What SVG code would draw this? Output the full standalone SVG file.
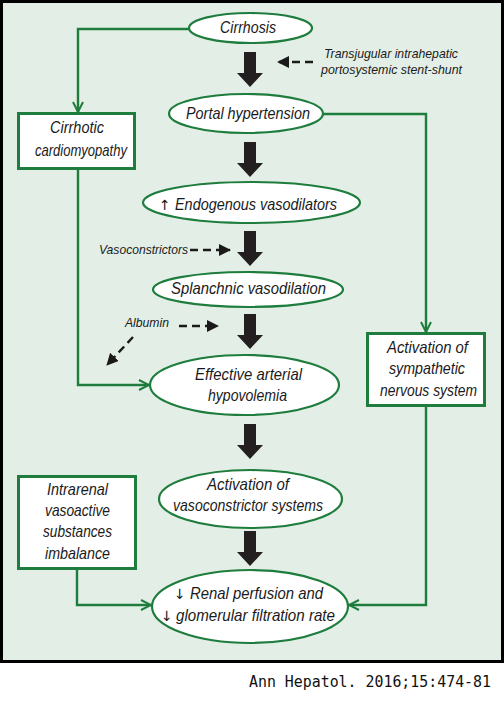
<svg xmlns="http://www.w3.org/2000/svg" width="504" height="704" viewBox="0 0 504 704">
<defs>
<style>
.node{fill:#fff;stroke:#1e7d3d;stroke-width:2.2}
.box{fill:#fff;stroke:#1e7d3d;stroke-width:3}
.t{font-family:"Liberation Sans",Arial,sans-serif;font-style:italic;font-size:16.5px;fill:#1a1a1a}
.s{font-family:"Liberation Sans",Arial,sans-serif;font-style:italic;font-size:13.5px;fill:#1a1a1a}
.ar{font-family:"DejaVu Sans",sans-serif;font-style:normal;font-weight:normal;font-size:14px;fill:#1a1a1a}
.g{fill:none;stroke:#1e7d3d;stroke-width:2.4}
.d{fill:none;stroke:#1a1a1a;stroke-width:2.4;stroke-dasharray:8 5}
.big{fill:#231f20}
</style>
<marker id="ga" viewBox="0 0 12 12" refX="11" refY="6" markerWidth="12" markerHeight="12" markerUnits="userSpaceOnUse" orient="auto">
<path d="M1,1 L11,6 L1,11" fill="none" stroke="#1e7d3d" stroke-width="2"/>
</marker>
<marker id="da" viewBox="0 0 12 12" refX="11" refY="6" markerWidth="12" markerHeight="12" markerUnits="userSpaceOnUse" orient="auto">
<path d="M0,0 L12,6 L0,12 Z" fill="#1a1a1a"/>
</marker>
<path id="ba" d="M-6,0 H6 V21 H13 L0,35 L-13,21 H-6 Z"/>
</defs>
<rect x="0" y="0" width="504" height="704" fill="#fff"/>
<rect x="1.5" y="1.5" width="501" height="660" fill="#e3efe6" stroke="#000" stroke-width="3"/>

<g id="connectors">
<path class="g" d="M189,29 H78 V112" marker-end="url(#ga)"/>
<path class="g" d="M323,114 H426 V332" marker-end="url(#ga)"/>
<path class="g" d="M78,168 V385 H149" marker-end="url(#ga)"/>
<path class="g" d="M426,406 V605 H349" marker-end="url(#ga)"/>
<path class="g" d="M77,569 V605 H151" marker-end="url(#ga)"/>
<use href="#ba" class="big" x="250" y="52"/>
<use href="#ba" class="big" x="250" y="142"/>
<use href="#ba" class="big" x="250" y="231"/>
<use href="#ba" class="big" x="250" y="314"/>
<use href="#ba" class="big" x="250" y="424"/>
<use href="#ba" class="big" x="250" y="531"/>
<path class="d" d="M313,62 H278" marker-end="url(#da)"/>
<path class="d" d="M190,250 H230" marker-end="url(#da)"/>
<path class="d" d="M179,326 H218" marker-end="url(#da)"/>
<path class="d" d="M133,337 L107,365" marker-end="url(#da)"/>
</g>

<g id="cirrhosis">
<ellipse class="node" cx="250.5" cy="28" rx="61.5" ry="15"/>
<text class="t" x="220" y="33" textLength="56" lengthAdjust="spacingAndGlyphs">Cirrhosis</text>
</g>
<g id="tips">
<text class="s" x="324" y="58" textLength="134" lengthAdjust="spacingAndGlyphs">Transjugular  intrahepatic</text>
<text class="s" x="321" y="74" textLength="141" lengthAdjust="spacingAndGlyphs">portosystemic  stent-shunt</text>
</g>
<g id="portal-hypertension">
<ellipse class="node" cx="246" cy="113.5" rx="77" ry="19.5"/>
<text class="t" x="186" y="119" textLength="124" lengthAdjust="spacingAndGlyphs">Portal hypertension</text>
</g>
<g id="cirrhotic-cardiomyopathy">
<rect class="box" x="18.5" y="113.5" width="116" height="55"/>
<text class="t" x="50" y="133" textLength="54" lengthAdjust="spacingAndGlyphs">Cirrhotic</text>
<text class="t" x="35" y="156" textLength="92" lengthAdjust="spacingAndGlyphs">cardiomyopathy</text>
</g>
<g id="endogenous-vasodilators">
<ellipse class="node" cx="251.5" cy="202.5" rx="108.5" ry="20.5"/>
<text class="ar" x="159" y="210">↑</text>
<text class="t" x="175" y="210" textLength="162" lengthAdjust="spacingAndGlyphs">Endogenous vasodilators</text>
</g>
<g id="vasoconstrictors">
<text class="s" x="99" y="254" textLength="89" lengthAdjust="spacingAndGlyphs">Vasoconstrictors</text>
</g>
<g id="splanchnic-vasodilation">
<ellipse class="node" cx="248" cy="289.5" rx="95" ry="17.5"/>
<text class="t" x="171" y="294" textLength="155" lengthAdjust="spacingAndGlyphs">Splanchnic  vasodilation</text>
</g>
<g id="albumin">
<text class="s" x="125" y="327" textLength="44" lengthAdjust="spacingAndGlyphs">Albumin</text>
</g>
<g id="effective-arterial-hypovolemia">
<ellipse class="node" cx="244.5" cy="385" rx="94.5" ry="30"/>
<text class="t" x="195" y="380" textLength="107" lengthAdjust="spacingAndGlyphs">Effective arterial</text>
<text class="t" x="208" y="401" textLength="79" lengthAdjust="spacingAndGlyphs">hypovolemia</text>
</g>
<g id="sympathetic-activation">
<rect class="box" x="367.5" y="333.5" width="117" height="72"/>
<text class="t" x="387" y="353" textLength="81" lengthAdjust="spacingAndGlyphs">Activation of</text>
<text class="t" x="389" y="374" textLength="76" lengthAdjust="spacingAndGlyphs">sympathetic</text>
<text class="t" x="380" y="396" textLength="97" lengthAdjust="spacingAndGlyphs">nervous system</text>
</g>
<g id="vasoconstrictor-systems">
<ellipse class="node" cx="250.5" cy="499" rx="91.5" ry="29"/>
<text class="t" x="207" y="490" textLength="82" lengthAdjust="spacingAndGlyphs">Activation of</text>
<text class="t" x="173" y="511" textLength="150" lengthAdjust="spacingAndGlyphs">vasoconstrictor systems</text>
</g>
<g id="intrarenal-imbalance">
<rect class="box" x="18.5" y="476.5" width="117" height="92"/>
<text class="t" x="47" y="495" textLength="61" lengthAdjust="spacingAndGlyphs">Intrarenal</text>
<text class="t" x="45" y="516" textLength="65" lengthAdjust="spacingAndGlyphs">vasoactive</text>
<text class="t" x="43" y="537" textLength="69" lengthAdjust="spacingAndGlyphs">substances</text>
<text class="t" x="45" y="559" textLength="65" lengthAdjust="spacingAndGlyphs">imbalance</text>
</g>
<g id="renal-perfusion">
<ellipse class="node" cx="250" cy="606.5" rx="98" ry="36.5"/>
<text class="ar" x="174" y="599">↓</text>
<text class="t" x="190" y="599" textLength="133" lengthAdjust="spacingAndGlyphs">Renal perfusion and</text>
<text class="ar" x="161" y="621">↓</text>
<text class="t" x="176" y="621" textLength="159" lengthAdjust="spacingAndGlyphs">glomerular filtration rate</text>
</g>
<text x="249" y="687" font-family="DejaVu Sans Mono,monospace" font-size="15" fill="#111" textLength="242" lengthAdjust="spacingAndGlyphs">Ann Hepatol. 2016;15:474-81</text>
</svg>
